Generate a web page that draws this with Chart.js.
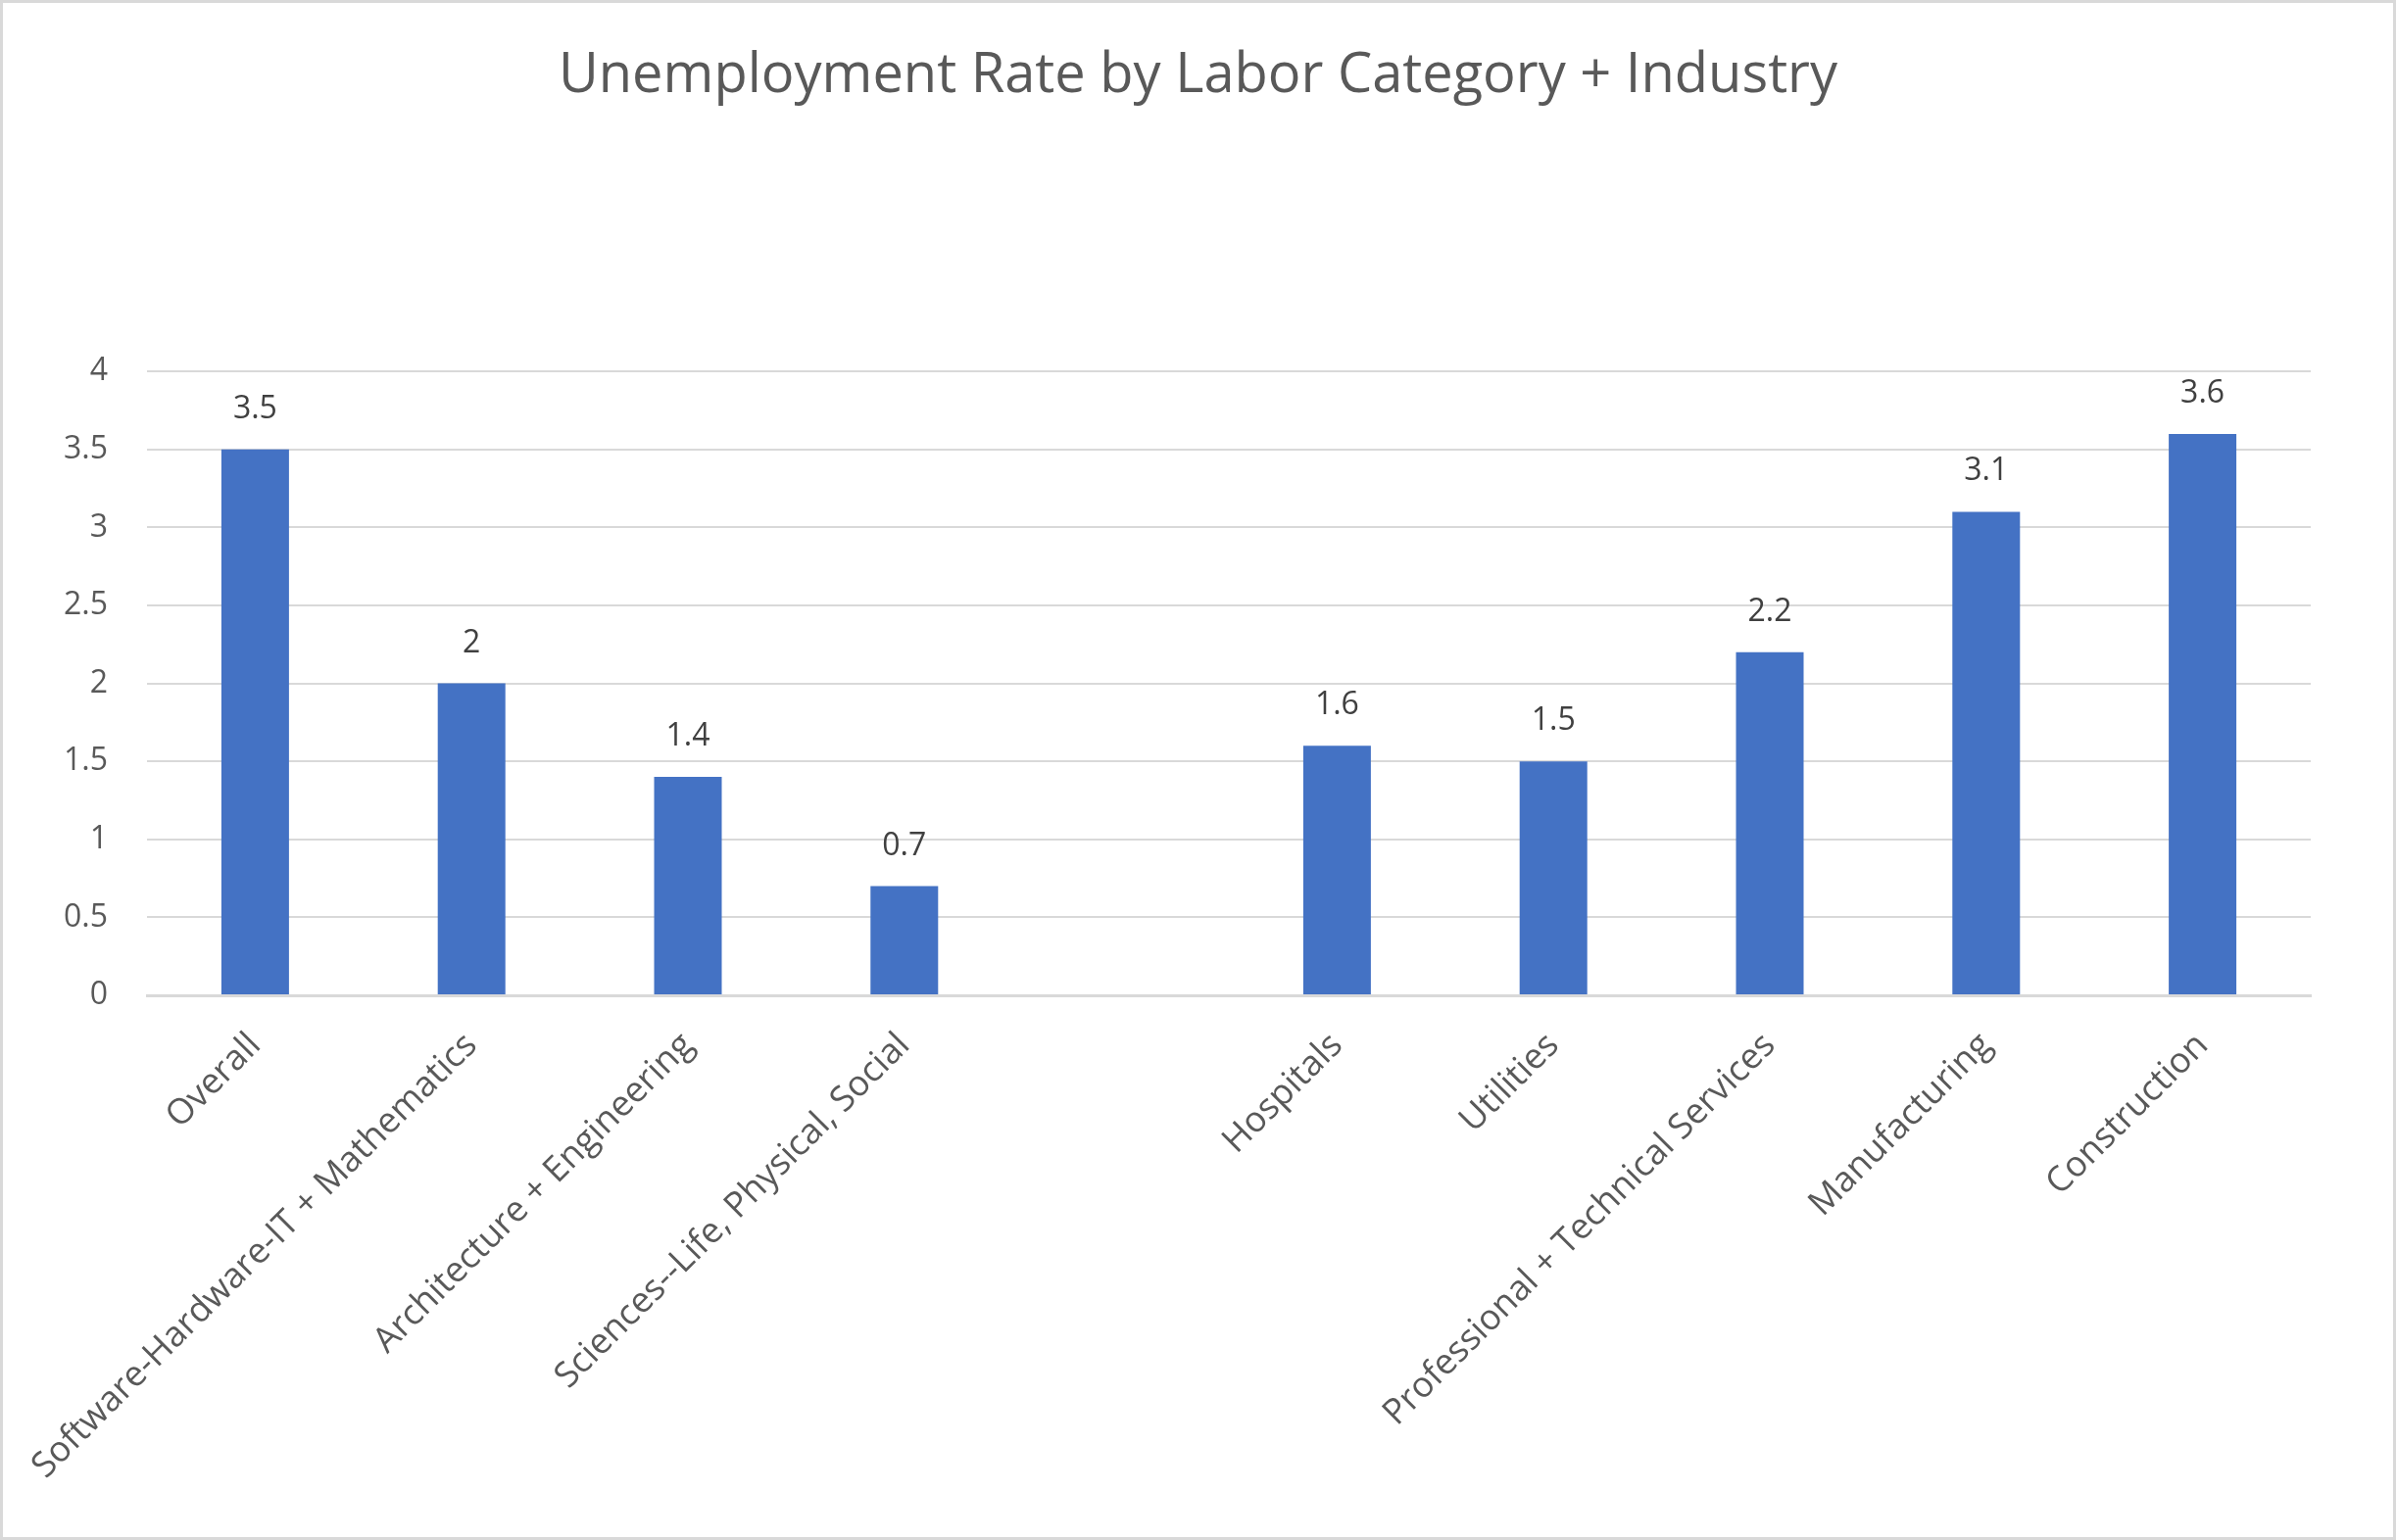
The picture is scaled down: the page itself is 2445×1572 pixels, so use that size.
<!DOCTYPE html>
<html>
<head>
<meta charset="utf-8">
<script src="https://cdn.jsdelivr.net/npm/chart.js@4.4.1/dist/chart.umd.min.js"></script>
<style>
  html, body { margin: 0; padding: 0; background: #fff; }
  canvas { display: block; }
</style>
</head>
<body>
<canvas id="chart" width="2445" height="1572"></canvas>
<script>
const categories = [
    'Overall',
    'Software-Hardware-IT + Mathematics',
    'Architecture + Engineering',
    'Sciences--Life, Physical, Social',
    '',
    'Hospitals',
    'Utilities',
    'Professional + Technical Services',
    'Manufacturing',
    'Construction'
];
const rates = [3.5, 2, 1.4, 0.7, null, 1.6, 1.5, 2.2, 3.1, 3.6];
const yTicks = [0, 0.5, 1, 1.5, 2, 2.5, 3, 3.5, 4];

const textGray = '#595959';
const fontFamily = '"Open Sans", "Noto Sans", sans-serif';

// white background + light border round the whole chart
const frame = {
    id: 'frame',
    beforeDraw(chart) {
        const c = chart.ctx;
        c.save();
        c.fillStyle = '#fff';
        c.fillRect(0, 0, chart.width, chart.height);
        c.strokeStyle = '#D9D9D9';
        c.lineWidth = 3;
        c.strokeRect(1.5, 1.5, chart.width - 3, chart.height - 3);
        c.restore();
    }
};

// value labels above each bar
const barLabels = {
    id: 'barLabels',
    afterDatasetsDraw(chart) {
        const c = chart.ctx;
        const meta = chart.getDatasetMeta(0);
        c.save();
        c.fillStyle = '#404040';
        c.font = '32px ' + fontFamily;
        c.textAlign = 'center';
        c.textBaseline = 'alphabetic';
        meta.data.forEach((bar, i) => {
            const v = rates[i];
            if (v === null) return;
            c.fillText(String(v), bar.x, bar.y - 32);
        });
        c.restore();
    }
};

const ctx = document.getElementById('chart').getContext('2d');
const chart = new Chart(ctx, {
    type: 'bar',
    data: {
        labels: categories,
        datasets: [{
            data: rates,
            backgroundColor: '#4472C4',
            barPercentage: 0.3125,
            categoryPercentage: 1
        }]
    },
    options: {
        responsive: false,
        animation: false,
        layout: { padding: 0 },
        plugins: {
            legend: { display: false },
            tooltip: { enabled: false },
            title: {
                display: true,
                text: 'Unemployment Rate by Labor Category + Industry',
                color: textGray,
                font: { family: fontFamily, size: 56, weight: 'normal', lineHeight: 1.2 },
                padding: { top: 44, bottom: 268 }
            }
        },
        scales: {
            x: {
                grid: { display: false },
                border: { display: true, color: '#D9D9D9', width: 3 },
                ticks: {
                    color: textGray,
                    font: { family: fontFamily, size: 36 },
                    minRotation: 45,
                    maxRotation: 45,
                    autoSkip: false,
                    padding: 22
                },
                afterFit(scale) { scale.height = 556; }
            },
            y: {
                min: 0,
                max: 4,
                afterBuildTicks(scale) { scale.ticks = yTicks.map(v => ({ value: v })); },
                grid: { color: '#D9D9D9', lineWidth: 2, drawTicks: false },
                border: { display: false },
                ticks: {
                    color: textGray,
                    font: { family: fontFamily, size: 32 },
                    padding: 40,
                    callback: v => String(v)
                },
                afterFit(scale) { scale.width = 150; }
            },
            // empty right-hand strip so the plot ends where the reference does
            yRight: {
                position: 'right',
                min: 0,
                max: 4,
                grid: { display: false, drawTicks: false },
                border: { display: false },
                ticks: { display: false },
                afterFit(scale) { scale.width = 87; }
            }
        }
    },
    plugins: [frame, barLabels]
});
</script>
</body>
</html>
